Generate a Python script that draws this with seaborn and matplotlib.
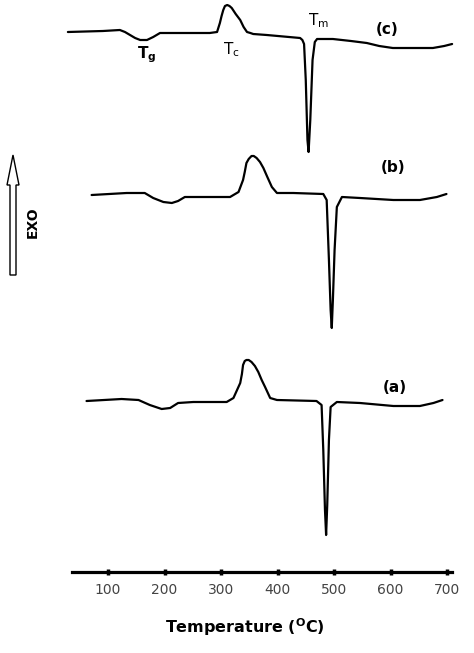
import numpy as np
import pandas as pd
import matplotlib
matplotlib.use('Agg')
import matplotlib.pyplot as plt
from matplotlib.patches import FancyArrow
import seaborn as sns

# DSC traces (heat flow in arbitrary units, exo up)
temp_c = [29, 91, 121, 130, 139, 148, 157, 169, 180, 192, 205, 245, 280, 293, 298, 301, 304,
          307, 311, 315, 319, 326, 334, 340, 346, 352, 357, 381, 440, 444, 447, 450, 453, 455,
          458, 462, 466, 470, 498, 530, 558, 580, 604, 675, 695, 709]
heat_c = [540, 541, 542, 540, 537, 534, 532, 532, 535, 539, 539, 539, 539, 540, 549, 556, 562,
          566, 567, 566, 564, 558, 552, 545, 540, 539, 538, 537, 534, 532, 528, 492, 432, 420,
          452, 512, 530, 533, 533, 531, 529, 526, 524, 524, 526, 528]

temp_b = [71, 133, 165, 180, 198, 213, 224, 236, 286, 316, 331, 339, 342, 345, 349, 354, 358,
          363, 369, 375, 382, 390, 399, 428, 481, 487, 491, 494, 496, 498, 501, 505, 514, 546,
          605, 652, 682, 699]
heat_b = [377, 379, 379, 374, 370, 369, 371, 375, 375, 375, 380, 392, 400, 409, 413, 416, 416,
          414, 410, 404, 395, 385, 379, 379, 378, 372, 312, 262, 244, 272, 322, 365, 375, 374,
          372, 372, 375, 378]

temp_a = [62, 124, 154, 174, 195, 210, 224, 251, 310, 322, 334, 337, 339, 342, 345, 349, 354,
          360, 366, 372, 378, 387, 399, 469, 478, 481, 484, 486, 488, 491, 494, 505, 546, 605,
          652, 676, 692]
heat_a = [171, 173, 172, 167, 163, 164, 169, 170, 170, 174, 189, 198, 207, 211, 212, 212, 210,
          206, 200, 192, 185, 174, 172, 171, 167, 122, 62, 37, 67, 132, 165, 170, 169, 166,
          166, 169, 172]

xticks = [100, 200, 300, 400, 500, 600, 700]

df = pd.concat([
    pd.DataFrame({'temp': temp_c, 'heat': heat_c, 'sample': 'c'}),
    pd.DataFrame({'temp': temp_b, 'heat': heat_b, 'sample': 'b'}),
    pd.DataFrame({'temp': temp_a, 'heat': heat_a, 'sample': 'a'}),
])

sns.set_theme(style='white')
plt.rcParams['font.family'] = ['DejaVu Sans']
plt.rcParams['text.color'] = 'black'

fig = plt.figure(figsize=(4.74, 6.53), dpi=100)
ax = fig.add_axes([62.8 / 474, 81 / 653, (455.5 - 62.8) / 474, 572 / 653])

sns.lineplot(data=df, x='temp', y='heat', units='sample', estimator=None, sort=False,
             color='black', linewidth=1.6, ax=ax)

ax.set_xlim(20, 715)
ax.set_ylim(0, 572)
ax.set_xticks(xticks)
ax.set_yticks([])
ax.set_xlabel('')
ax.set_ylabel('')
for s in ['left', 'right', 'top']:
    ax.spines[s].set_visible(False)
ax.spines['bottom'].set_bounds(36, 708)
ax.spines['bottom'].set_linewidth(2.3)
ax.spines['bottom'].set_color('black')
ax.tick_params(axis='x', direction='inout', length=4, width=2.5, color='black',
               pad=6, labelsize=10, labelcolor='#444444', bottom=True)

# curve labels
ax.text(594, 542, '(c)', fontsize=11, fontweight='bold', ha='center', va='center')
ax.text(604, 405, '(b)', fontsize=11, fontweight='bold', ha='center', va='center')
ax.text(608, 184, '(a)', fontsize=11, fontweight='bold', ha='center', va='center')
ax.text(169, 517, r'$\mathbf{T_g}$', fontsize=11, ha='center', va='center')
ax.text(319, 522, r'$\mathregular{T_c}$', fontsize=11, ha='center', va='center')
ax.text(473, 551, r'$\mathregular{T_m}$', fontsize=11, ha='center', va='center')

fig.text(245 / 474, 1 - 627 / 653, r'Temperature ($\mathbf{^{O}}$C)', fontsize=11.5,
         fontweight='bold', ha='center', va='center')

# hollow EXO arrow on the left
arrow = FancyArrow(13 / 474, 378 / 653, 0, 120 / 653, width=6 / 474, head_width=12 / 474,
                   head_length=30 / 653, length_includes_head=True,
                   facecolor='white', edgecolor='black', linewidth=1, transform=fig.transFigure)
fig.patches.append(arrow)
fig.text(33 / 474, 1 - 222 / 653, 'EXO', rotation=90, fontsize=10, fontweight='bold',
         ha='center', va='center')

fig.savefig('out.png', dpi=100)
